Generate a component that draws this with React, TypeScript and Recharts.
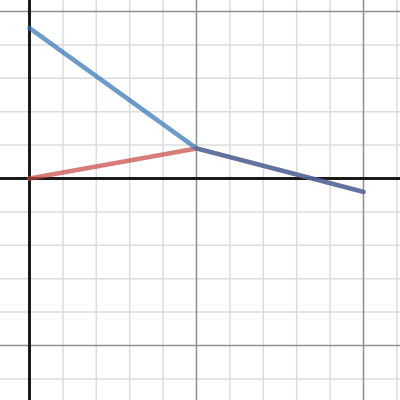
import React from "react";
import { ComposedChart, Line, XAxis, YAxis, ReferenceLine } from "recharts";

const xValues = [0, 5, 10];
const blueValues = [4.5, 0.9, -0.4];
const redValues = [0, 0.9, -0.4];

const xMinorTicks = [-1, 1, 2, 3, 4, 6, 7, 8, 9, 11];
const xMajorTicks = [5, 10];
const yMinorTicks = [-6, -4, -3, -2, -1, 1, 2, 3, 4];
const yMajorTicks = [-5, 5];

const X_DOMAIN: [number, number] = [-0.883, 11.093];
const Y_DOMAIN: [number, number] = [-6.632, 5.344];

const data = xValues.map((x, i) => ({ x, blue: blueValues[i], red: redValues[i] }));

export default function App() {
  return (
    <div style={{ position: "fixed", left: 0, top: 0, width: 400, height: 400, background: "#fff" }}>
      <ComposedChart width={400} height={400} data={data} margin={{ top: 0, right: 0, bottom: 0, left: 0 }}>
        <XAxis dataKey="x" type="number" domain={X_DOMAIN} allowDataOverflow hide />
        <YAxis type="number" domain={Y_DOMAIN} allowDataOverflow hide />
        {xMinorTicks.map((t) => (
          <ReferenceLine key={"xm" + t} x={t} stroke="#dcdcdc" strokeWidth={1.5} />
        ))}
        {yMinorTicks.map((t) => (
          <ReferenceLine key={"ym" + t} y={t} stroke="#dcdcdc" strokeWidth={1.5} />
        ))}
        {xMajorTicks.map((t) => (
          <ReferenceLine key={"xM" + t} x={t} stroke="#8f8f8f" strokeWidth={1.5} />
        ))}
        {yMajorTicks.map((t) => (
          <ReferenceLine key={"yM" + t} y={t} stroke="#8f8f8f" strokeWidth={1.5} />
        ))}
        <ReferenceLine x={0} stroke="#1a1a1a" strokeWidth={3} />
        <ReferenceLine y={0} stroke="#1a1a1a" strokeWidth={3} />
        <Line
          dataKey="red"
          type="linear"
          stroke="#c74440"
          strokeOpacity={0.7}
          strokeWidth={4.5}
          strokeLinecap="round"
          strokeLinejoin="round"
          dot={false}
          activeDot={false}
          isAnimationActive={false}
        />
        <Line
          dataKey="blue"
          type="linear"
          stroke="#2d70b3"
          strokeOpacity={0.7}
          strokeWidth={4.5}
          strokeLinecap="round"
          strokeLinejoin="round"
          dot={false}
          activeDot={false}
          isAnimationActive={false}
        />
      </ComposedChart>
    </div>
  );
}
